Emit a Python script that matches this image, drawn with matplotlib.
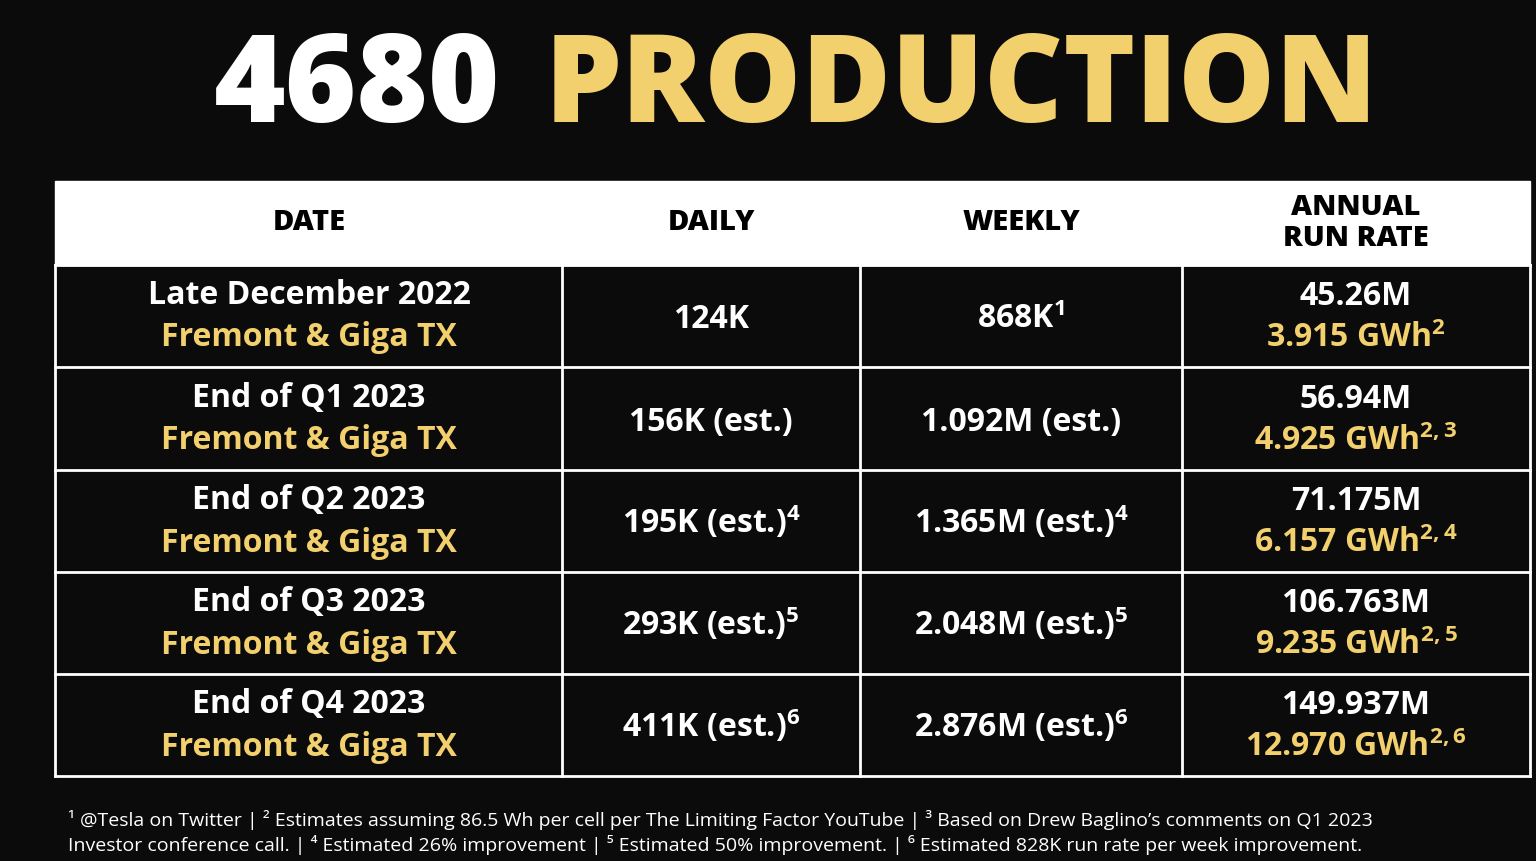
import matplotlib
matplotlib.use("Agg")
import matplotlib.pyplot as plt
from matplotlib.patches import Rectangle

plt.rcParams['font.family'] = ['Open Sans', 'DejaVu Sans']
plt.rcParams['mathtext.fontset'] = 'custom'
plt.rcParams['mathtext.rm'] = 'Open Sans:bold'
plt.rcParams['mathtext.it'] = 'Open Sans:bold'
plt.rcParams['mathtext.bf'] = 'Open Sans:bold'
plt.rcParams['mathtext.default'] = 'rm'

title_white = "4680"
title_gold = "PRODUCTION"
headers = ["DATE", "DAILY", "WEEKLY", "ANNUAL\nRUN RATE"]
dates = ["Late December 2022", "End of Q1 2023", "End of Q2 2023", "End of Q3 2023", "End of Q4 2023"]
site = "Fremont & Giga TX"
daily = ["124K", "156K (est.)", "195K (est.)$^{4}$", "293K (est.)$^{5}$", "411K (est.)$^{6}$"]
weekly = ["868K$^{1}$", "1.092M (est.)", "1.365M (est.)$^{4}$", "2.048M (est.)$^{5}$", "2.876M (est.)$^{6}$"]
annual_cells = ["45.26M", "56.94M", "71.175M", "106.763M", "149.937M"]
annual_gwh = ["3.915 GWh$^{2}$", "4.925 GWh$^{2,3}$", "6.157 GWh$^{2,4}$", "9.235 GWh$^{2,5}$", "12.970 GWh$^{2,6}$"]
footnotes = ["¹ @Tesla on Twitter | ² Estimates assuming 86.5 Wh per cell per The Limiting Factor YouTube | ³ Based on Drew Baglino’s comments on Q1 2023",
             "Investor conference call. | ⁴ Estimated 26% improvement | ⁵ Estimated 50% improvement. | ⁶ Estimated 828K run rate per week improvement."]

GOLD = "#f3d06e"
BG = "#0b0b0b"

fig = plt.figure(figsize=(15.36, 8.61), dpi=100, facecolor=BG)
ax = fig.add_axes([0, 0, 1, 1])
ax.set_xlim(0, 1536); ax.set_ylim(861, 0); ax.axis('off')
ax.set_facecolor(BG)

ax.text(500, 90, title_white, color='white', fontsize=88, fontweight='heavy', ha='right', va='center')
ax.text(545, 90, title_gold, color=GOLD, fontsize=88, fontweight='heavy', ha='left', va='center')

x0, x1 = 55, 1530
cols = [55, 562, 860, 1182, 1530]
centers = [(cols[i] + cols[i+1]) / 2 for i in range(4)]
centers[0] = 309
hy0, hy1 = 181, 265
rows = [265, 367, 470, 572, 674, 776]

ax.add_patch(Rectangle((x0, hy0), x1 - x0, hy1 - hy0, facecolor='white', edgecolor='white'))
for c, h in zip(centers, headers):
    ax.text(c, (hy0 + hy1) / 2, h, color='black', fontsize=21, fontweight='heavy', ha='center', va='center', linespacing=1.1)

lw = 2
for y in rows:
    ax.plot([x0, x1], [y, y], color='white', lw=lw)
for x in cols:
    ax.plot([x, x], [hy1, rows[-1]], color='white', lw=lw)

fs = 23
for i in range(5):
    ym = (rows[i] + rows[i+1]) / 2
    ax.text(centers[0], ym - 20, dates[i], color='white', fontsize=fs, fontweight='bold', ha='center', va='center')
    ax.text(centers[0], ym + 22, site, color=GOLD, fontsize=fs, fontweight='bold', ha='center', va='center')
    ax.text(centers[1], ym + 12, daily[i], color='white', fontsize=fs, fontweight='bold', ha='center', va='baseline')
    ax.text(centers[2], ym + 12, weekly[i], color='white', fontsize=fs, fontweight='bold', ha='center', va='baseline')
    ax.text(centers[3], ym - 11, annual_cells[i], color='white', fontsize=fs, fontweight='bold', ha='center', va='baseline')
    ax.text(centers[3], ym + 31, annual_gwh[i], color=GOLD, fontsize=fs, fontweight='bold', ha='center', va='baseline')

ax.text(68, 820, footnotes[0], color='white', fontsize=14, ha='left', va='center')
ax.text(68, 845, footnotes[1], color='white', fontsize=14, ha='left', va='center')

fig.savefig("out.png", dpi=100, facecolor=BG)
